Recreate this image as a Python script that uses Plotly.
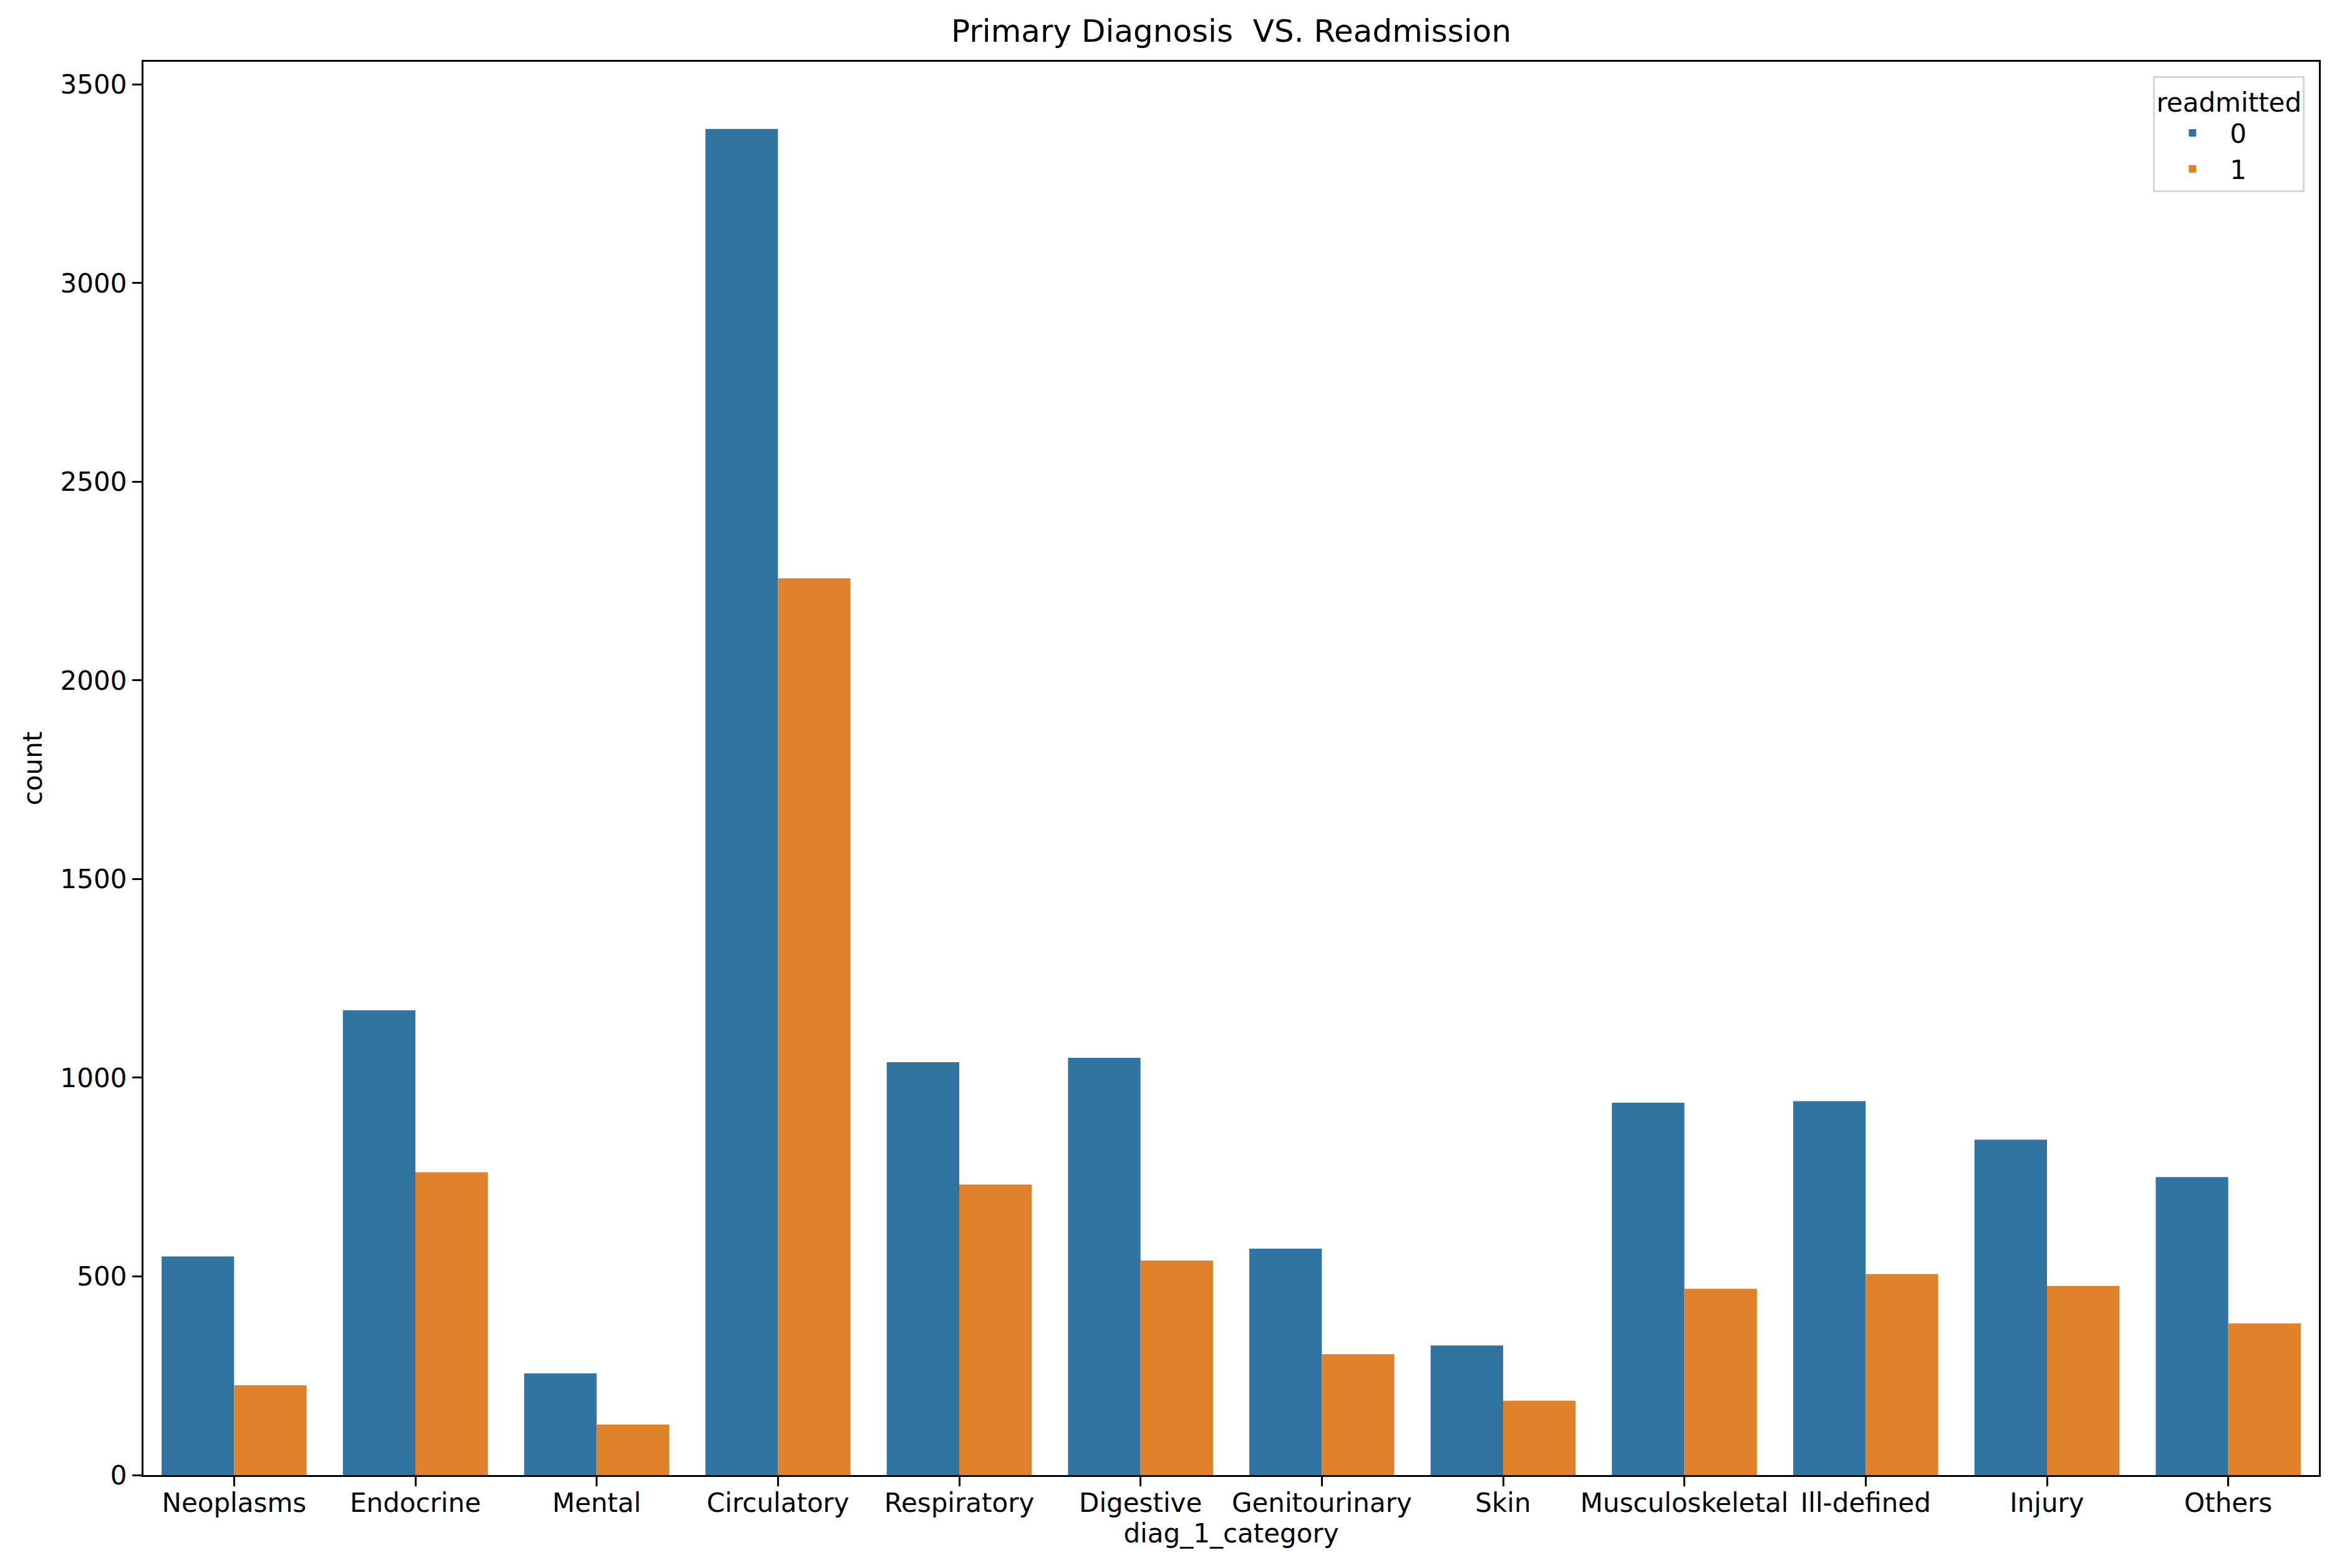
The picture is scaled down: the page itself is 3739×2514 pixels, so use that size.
import plotly.graph_objects as go

categories = ["Neoplasms", "Endocrine", "Mental", "Circulatory", "Respiratory", "Digestive",
              "Genitourinary", "Skin", "Musculoskeletal", "Ill-defined", "Injury", "Others"]
counts_0 = [550, 1170, 256, 3388, 1039, 1050, 570, 326, 937, 941, 844, 750]
counts_1 = [226, 762, 127, 2257, 731, 540, 304, 187, 469, 506, 476, 382]
y_ticks = [0, 500, 1000, 1500, 2000, 2500, 3000, 3500]

FONT = "DejaVu Sans"

fig = go.Figure()
fig.add_trace(go.Bar(x=categories, y=counts_0, name="0", marker_color="#3274a1", marker_line_width=0))
fig.add_trace(go.Bar(x=categories, y=counts_1, name="1", marker_color="#e1812c", marker_line_width=0))

fig.update_layout(
    width=3739, height=2514,
    margin=dict(l=222, r=29, t=91, b=157, autoexpand=False),
    paper_bgcolor="white", plot_bgcolor="white",
    font=dict(family=FONT, size=42, color="black"),
    barmode="group", bargap=0.2, bargroupgap=0,
    title=dict(text="Primary Diagnosis  VS. Readmission", font=dict(size=50),
               x=0.5, xref="paper", xanchor="center",
               y=1, yref="paper", yanchor="bottom", pad=dict(b=32)),
    legend=dict(title=dict(text="readmitted", side="top center", font=dict(size=42)),
                x=0.9935, xanchor="right", y=0.99, yanchor="top",
                bordercolor="#d6d6d6", borderwidth=3, bgcolor="white",
                font=dict(size=42), itemwidth=110, tracegroupgap=6),
    showlegend=True,
)

fig.update_xaxes(
    title=dict(text="diag_1_category", standoff=2, font=dict(size=42)),
    range=[-0.5, 11.5], showline=True, linecolor="black", linewidth=3.3, mirror=True,
    ticks="outside", ticklen=15, tickwidth=3.3, tickcolor="black", showgrid=False,
    ticklabelstandoff=-10,
)
fig.update_yaxes(
    title=dict(text="count", standoff=16, font=dict(size=42)),
    range=[0, 3557], tickvals=y_ticks, showline=True, linecolor="black", linewidth=3.3,
    mirror=True, ticks="outside", ticklen=15, tickwidth=3.3, tickcolor="black",
    showgrid=False, zeroline=False,
)

fig.write_html("out.html")
